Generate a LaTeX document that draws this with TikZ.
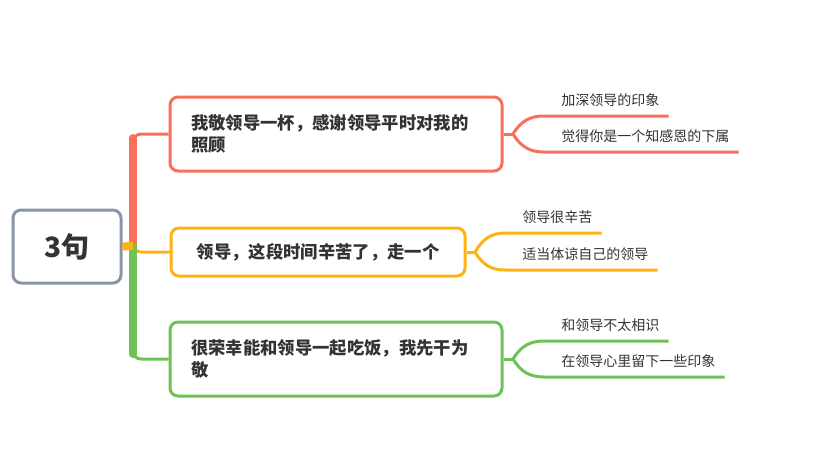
\documentclass[tikz,border=0pt]{standalone}
\usepackage{fontspec}
\setmainfont{Noto Sans CJK SC}
\usepackage{tikz}
\usetikzlibrary{positioning}

\definecolor{Ink}{HTML}{333333}
\definecolor{RootGray}{HTML}{8A95A8}
\definecolor{BranchRed}{HTML}{FA6F5C}
\definecolor{BranchOrange}{HTML}{FDB312}
\definecolor{BranchGreen}{HTML}{6DC256}

\begin{document}
\begin{tikzpicture}[x=0.75pt, y=-0.75pt]
			\tikzstyle{Root}	= [draw=RootGray, line width=2.25pt, rounded corners=6pt, fill=white, minimum width=81pt, minimum height=54.75pt, text=Ink, font=\fontsize{21pt}{21pt}\selectfont\bfseries]
			\tikzstyle{Topic}	= [draw, line width=2.25pt, rounded corners=6pt, fill=white, inner xsep=15.75pt, text=Ink, font=\fontsize{13pt}{16.5pt}\selectfont\bfseries]
			\tikzstyle{TwoLine}	= [text width=217.5pt, align=left, minimum height=55.5pt]
			\tikzstyle{Leaf}	= [anchor=south west, inner xsep=6.75pt, inner ysep=6pt, text height=7.5pt, text depth=1.5pt, text=Ink, font=\fontsize{10.5pt}{12pt}\selectfont]
			\tikzstyle{Twig}	= [line width=2.25pt, rounded corners=6pt]
			\tikzstyle{Bar}		= [line width=6pt, line cap=round]
			
			\useasboundingbox (0, 0) rectangle (825, 454);
			
			\node (root) at (67, 246.5) [Root] {3句};
			\node (t1) at (336, 134) [Topic, TwoLine, draw=BranchRed] {我敬领导一杯，感谢领导平时对我的\\照顾};
			\node (t2) at (318, 252) [Topic, draw=BranchOrange, minimum width=220.5pt, minimum height=36pt] {领导，这段时间辛苦了，走一个};
			\node (t3) at (336, 359) [Topic, TwoLine, draw=BranchGreen] {很荣幸能和领导一起吃饭，我先干为\\敬};
			
			\node (l11) at (552, 116) [Leaf] {加深领导的印象};
			\node (l12) at (552, 152) [Leaf] {觉得你是一个知感恩的下属};
			\node (l21) at (513, 233) [Leaf] {领导很辛苦};
			\node (l22) at (513, 270) [Leaf] {适当体谅自己的领导};
			\node (l31) at (552, 341) [Leaf] {和领导不太相识};
			\node (l32) at (552, 377) [Leaf] {在领导心里留下一些印象};
			
			\coordinate (hub) at (133, 246);
			\coordinate (redtop) at (133, 138);
			\coordinate (greenend) at (133, 354);
			\coordinate (f1) at (513, 134);
			\coordinate (f2) at (475, 252);
			\coordinate (f3) at (513, 359);
			
			% trunk
			\draw [Twig] (hub) |- (t1.west) [BranchRed];
			\draw [Twig] (hub) |- (t3.west) [BranchGreen];
			\draw [Twig] (hub) |- (t2.west) [BranchOrange];
			\draw [Bar] (hub) to (redtop) [BranchRed];
			\draw [Bar] (hub) to (greenend) [BranchGreen];
			\draw [-] (root.east) to (hub) [line width=6pt, BranchOrange];
			
			% leaves
			\draw [Twig] (t1.east) to (f1) [BranchRed];
			\draw [Twig] (f1) .. controls +(8,-13) and +(-22,0) .. (l11.south west) -- (l11.south east) [BranchRed];
			\draw [Twig] (f1) .. controls +(8,13) and +(-22,0) .. (l12.south west) -- (l12.south east) [BranchRed];
			
			\draw [Twig] (t2.east) to (f2) [BranchOrange];
			\draw [Twig] (f2) .. controls +(8,-13) and +(-22,0) .. (l21.south west) -- (l21.south east) [BranchOrange];
			\draw [Twig] (f2) .. controls +(8,13) and +(-22,0) .. (l22.south west) -- (l22.south east) [BranchOrange];
			
			\draw [Twig] (t3.east) to (f3) [BranchGreen];
			\draw [Twig] (f3) .. controls +(8,-13) and +(-22,0) .. (l31.south west) -- (l31.south east) [BranchGreen];
			\draw [Twig] (f3) .. controls +(8,13) and +(-22,0) .. (l32.south west) -- (l32.south east) [BranchGreen];
		\end{tikzpicture}
\end{document}
